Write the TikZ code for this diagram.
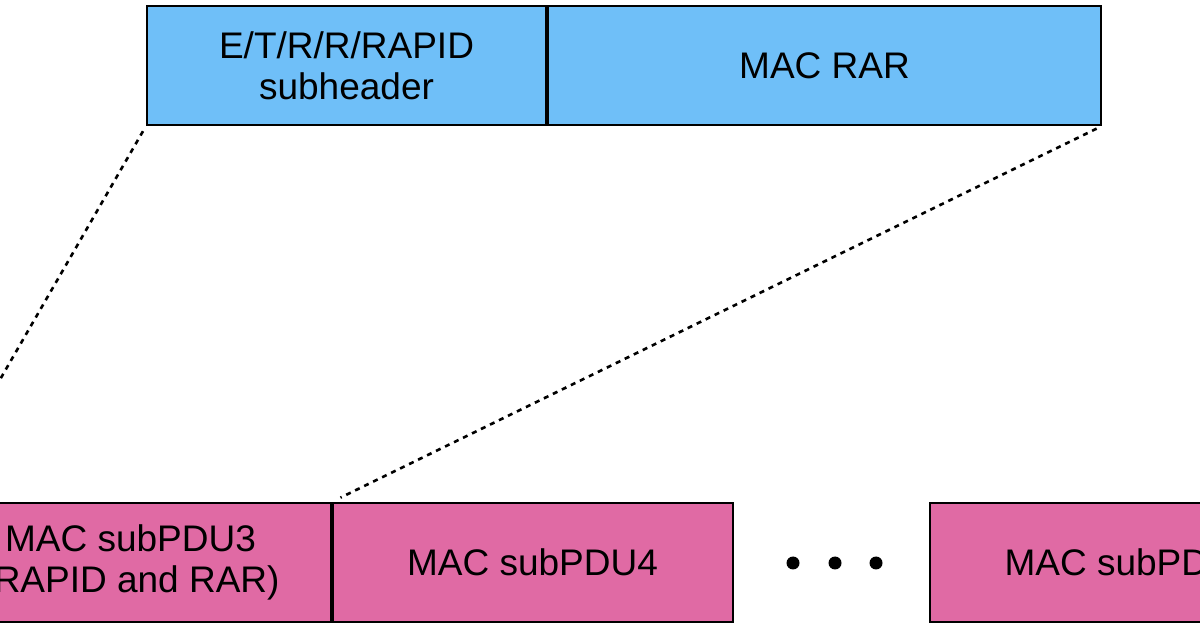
\documentclass[tikz,border=0pt]{standalone}
\usepackage{fontspec}
\setmainfont{Liberation Sans}
\usetikzlibrary{positioning}
\definecolor{fieldblue}{HTML}{6FBFF8}
\definecolor{pdupink}{HTML}{E06AA4}
\tikzset{
  field/.style={draw, line width=1pt, fill=fieldblue, minimum width=199.5pt, minimum height=59.5pt, align=center, inner sep=0pt},
  pdu/.style={draw, line width=1pt, fill=pdupink, minimum width=200pt, minimum height=59.5pt, align=center, inner sep=0pt},
  dot/.style={circle, fill=black, minimum size=6.5pt, inner sep=0pt},
  zoomline/.style={line width=1.3pt, dash pattern=on 2.5pt off 2.5pt}
}
\begin{document}
\begin{tikzpicture}[x=0.5pt, y=-0.5pt, font=\fontsize{18.5}{20.5}\selectfont]
\useasboundingbox (0,0) rectangle (1200,630);
\clip (0,0) rectangle (1200,630);
\node[field] (hdr) at (346.5,65.5) {E/T/R/R/RAPID\\subheader};
\node[field, minimum width=276.5pt, right=0pt of hdr] (rar) {MAC RAR};
\node[pdu] (sub3) at (130.5,562.5) {MAC subPDU3\\(RAPID and RAR)};
\node[pdu, right=0pt of sub3] (sub4) {MAC subPDU4};
\node[dot] (d1) at (793,563) {};
\node[dot] (d2) at (835,563) {};
\node[dot] (d3) at (876,563) {};
\node[pdu] (sub5) at (1130,562.5) {MAC subPDU5};
\draw[zoomline, shorten <=3pt, shorten >=3pt] (hdr.south west) -- (sub3.north west);
\draw[zoomline, shorten <=3pt, shorten >=5pt] (rar.south east) -- (sub4.north west);
\end{tikzpicture}
\end{document}
